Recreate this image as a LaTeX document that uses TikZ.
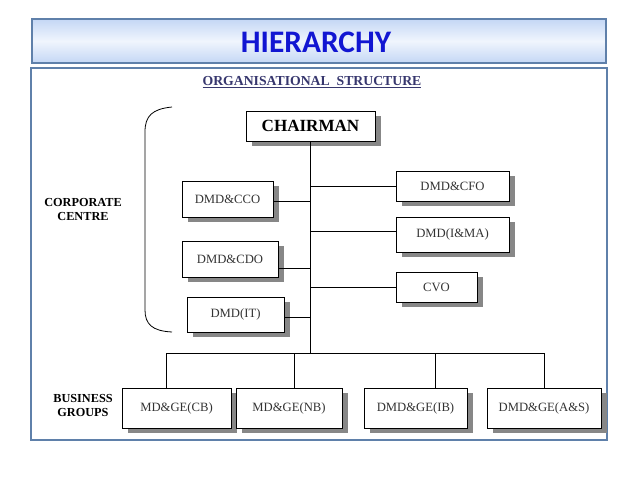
\documentclass[tikz,border=0pt]{standalone}
\usepackage{fontspec}
\setmainfont{Liberation Serif}
\newfontfamily\titlefont{Carlito}
\usetikzlibrary{positioning, calc, shadows}
\definecolor{frameblue}{RGB}{95,128,170}
\definecolor{headblue}{RGB}{196,215,245}
\definecolor{headlight}{RGB}{240,245,253}
\definecolor{titleblue}{RGB}{18,22,210}
\definecolor{orgblue}{RGB}{55,55,110}
\definecolor{shadowgray}{RGB}{135,135,135}

\begin{document}
\begin{tikzpicture}[x=0.75pt, y=-0.75pt,
  post/.style={draw, line width=0.7pt, fill=white, inner sep=0pt,
    text=black!80, font=\fontsize{9.5}{11}\selectfont,
    drop shadow={shadow xshift=4.5pt, shadow yshift=-4pt, fill=shadowgray, opacity=1}},
  grouplabel/.style={align=center, font=\bfseries\fontsize{9.2}{10.5}\selectfont},
  link/.style={line width=0.6pt}]
\useasboundingbox (0,0) rectangle (638,479);

% 見出し
\draw[frameblue, line width=0.8pt, top color=headblue, bottom color=headblue, middle color=headlight]
  (32,19) rectangle (606,63);
\node (title) at (316,42) {\titlefont\bfseries\fontsize{23.5}{26}\selectfont\color{titleblue}HIERARCHY};

% 枠
\draw[frameblue, line width=1.1pt, fill=white] (31,68) rectangle (607,440);
\node[text=orgblue, font=\bfseries\fontsize{10.3}{12}\selectfont] (org) at (312,82)
  {\underline{ORGANISATIONAL\ \ STRUCTURE}};

% 括弧
\draw[line width=0.6pt] (172,107) .. controls (152,109) and (145,116) .. (145,132)
  -- (145,310) .. controls (145,324) and (152,331) .. (172,332);
\node[grouplabel] (corp) at (83,209) {CORPORATE\\CENTRE};
\node[grouplabel] (biz) at (83,405) {BUSINESS\\GROUPS};

% 会長
\node[post, minimum width=96.75pt, minimum height=22.5pt,
  font=\bfseries\fontsize{12.8}{14}\selectfont, text=black] (chairman) at (310.5,126) {CHAIRMAN};

% 左側
\node[post, minimum width=68.25pt, minimum height=27pt] (cco) at (227.5,199) {DMD\&CCO};
\node[post, minimum width=72pt, minimum height=27pt] (cdo) at (230,259) {DMD\&CDO};
\node[post, minimum width=72.75pt, minimum height=26.25pt] (it) at (235.5,314.5) {DMD(IT)};

% 右側
\node[post, minimum width=84.75pt, minimum height=22.5pt] (cfo) at (452.5,186) {DMD\&CFO};
\node[post, minimum width=84.75pt, minimum height=26.25pt] (ima) at (452.5,234.5) {DMD(I\&MA)};
\node[post, minimum width=60.75pt, minimum height=22.5pt] (cvo) at (436.5,287) {CVO};

% 事業グループ
\node[post, minimum width=81.75pt, minimum height=30pt] (cb) at (176.5,408) {MD\&GE(CB)};
\node[post, minimum width=79.5pt, minimum height=30pt] (nb) at (289,408) {MD\&GE(NB)};
\node[post, minimum width=77.25pt, minimum height=30pt] (ib) at (415.5,408) {DMD\&GE(IB)};
\node[post, minimum width=85.5pt, minimum height=30pt] (as) at (544,408) {DMD\&GE(A\&S)};

% 線
\coordinate (bus) at (310.5,353);
\coordinate (dcb) at (166,353);
\coordinate (dnb) at (294,353);
\coordinate (dib) at (435,353);
\coordinate (das) at (544,353);
\draw[link] (chairman.south) -- (bus);
\draw[link] (dcb) -- (das);
\draw[link] (dcb) -- (dcb |- cb.north);
\draw[link] (dnb) -- (dnb |- nb.north);
\draw[link] (dib) -- (dib |- ib.north);
\draw[link] (das) -- (as.north);

\draw[link] (cco.east) ++(0,2) coordinate (ccoj) -- (ccoj -| bus);
\draw[link] (cdo.east) ++(0,9) coordinate (cdoj) -- (cdoj -| bus);
\draw[link] (it.east) ++(0,2.5) coordinate (itj) -- (itj -| bus);
\draw[link] (cfo.west) -- (cfo.west -| bus);
\draw[link] (ima.west) ++(0,-3.5) coordinate (imaj) -- (imaj -| bus);
\draw[link] (cvo.west) -- (cvo.west -| bus);
\end{tikzpicture}
\end{document}
